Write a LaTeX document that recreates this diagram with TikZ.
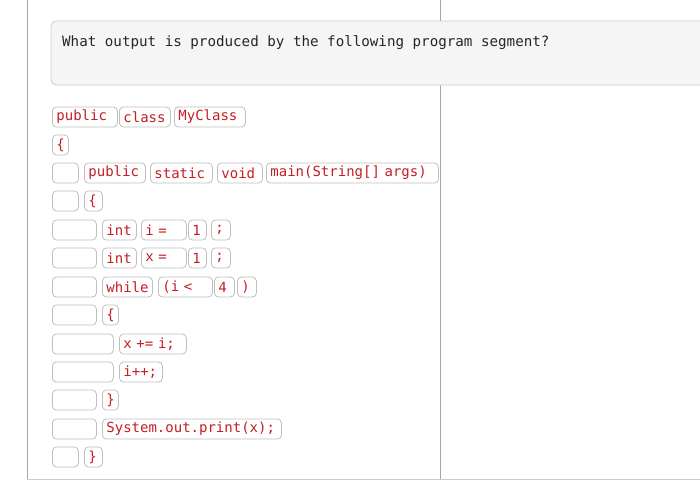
\documentclass[tikz,border=0pt]{standalone}
\usepackage{fontspec}
\setmonofont{DejaVu Sans Mono}
\newcommand\chipfont{\ttfamily\fontsize{14}{15}\selectfont\fontdimen3\font=0pt\fontdimen4\font=0pt}
\begin{document}
\begin{tikzpicture}[x=1pt,y=-1pt,
  chip/.style={draw=black!25, line width=0.8pt, rounded corners=4pt, fill=white, anchor=west, minimum height=20pt, inner ysep=0pt, inner xsep=4pt, text width=#1-8pt, align=left, text=codered, font=\chipfont},
  empty/.style={chip=#1}]
\definecolor{codered}{RGB}{196,30,36}
\useasboundingbox (0,0) rectangle (700,480);
\draw[black!35, line width=0.8pt] (27,0) -- (27,480);
\draw[black!35, line width=0.8pt] (440,0) -- (440,480);
\draw[black!20, line width=0.8pt] (27,479) -- (700,479);
\draw[black!20, fill=black!4, rounded corners=5pt, line width=0.8pt] (51,21) rectangle (712,85);
\node[anchor=west, inner sep=0pt, text=black!85, font=\ttfamily\fontsize{14.2}{15}\selectfont] (q) at (62,43) {What output is produced by the following program segment?};
% row 1
\node[chip=65pt] (r1a) at (52,117) {public};
\node[chip=51pt] (r1b) at (119,117) {class};
\node[chip=71pt] (r1c) at (174,117) {MyClass};
% row 2
\node[chip=16pt] (r2a) at (52,145) {\{};
% row 3
\node[empty=26pt] (r3e) at (52,173) {};
\node[chip=61pt] (r3a) at (84,173) {public};
\node[chip=62pt] (r3b) at (150,173) {static};
\node[chip=45pt] (r3c) at (217,173) {void};
\node[chip=172pt] (r3d) at (266,173) {main(String[] args)};
% row 4
\node[empty=26pt] (r4e) at (52,201) {};
\node[chip=18pt] (r4a) at (84,201) {\{};
% row 5
\node[empty=44pt] (r5e) at (52,230) {};
\node[chip=34pt] (r5a) at (102,230) {int};
\node[chip=45pt] (r5b) at (141,230) {i =};
\node[chip=18pt] (r5c) at (188,230) {1};
\node[chip=19pt] (r5d) at (211,230) {;};
% row 6
\node[empty=44pt] (r6e) at (52,258) {};
\node[chip=34pt] (r6a) at (102,258) {int};
\node[chip=45pt] (r6b) at (141,258) {x =};
\node[chip=18pt] (r6c) at (188,258) {1};
\node[chip=19pt] (r6d) at (211,258) {;};
% row 7
\node[empty=44pt] (r7e) at (52,287) {};
\node[chip=50pt] (r7a) at (102,287) {while};
\node[chip=54pt] (r7b) at (158,287) {(i <};
\node[chip=20pt] (r7c) at (214,287) {4};
\node[chip=19pt] (r7d) at (237,287) {)};
% row 8
\node[empty=44pt] (r8e) at (52,315) {};
\node[chip=16pt] (r8a) at (102,315) {\{};
% row 9
\node[empty=61pt] (r9e) at (52,344) {};
\node[chip=67pt] (r9a) at (119,344) {x += i;};
% row 10
\node[empty=61pt] (r10e) at (52,372) {};
\node[chip=43pt] (r10a) at (119,372) {i++;};
% row 11
\node[empty=44pt] (r11e) at (52,400) {};
\node[chip=16pt] (r11a) at (102,400) {\}};
% row 12
\node[empty=44pt] (r12e) at (52,429) {};
\node[chip=179pt] (r12a) at (102,429) {System.out.print(x);};
% row 13
\node[empty=26pt] (r13e) at (52,457) {};
\node[chip=18pt] (r13a) at (84,457) {\}};
\end{tikzpicture}
\end{document}
